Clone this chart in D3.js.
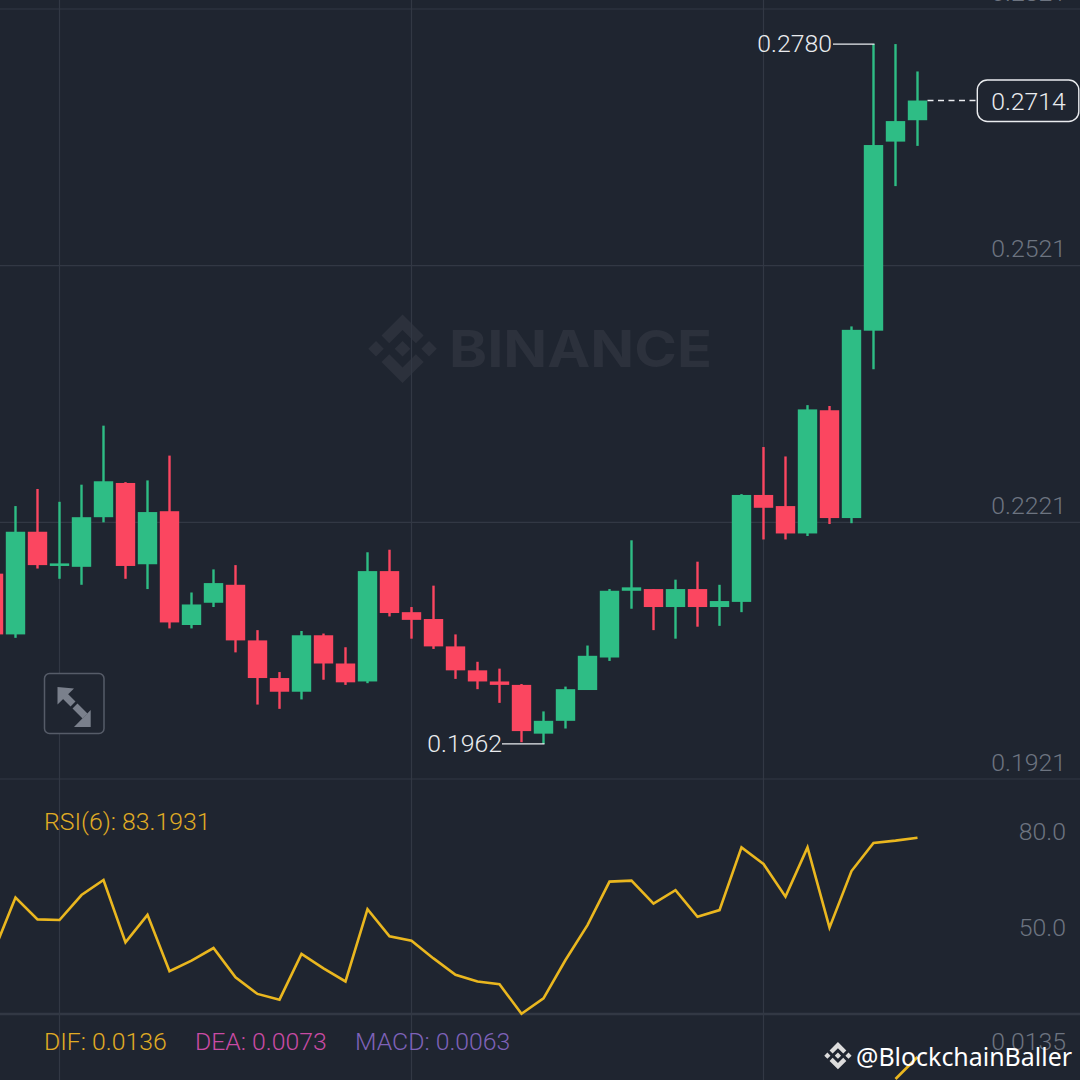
<!DOCTYPE html>
<html>
<head>
<meta charset="utf-8">
<script src="https://cdn.jsdelivr.net/npm/d3@7/dist/d3.min.js"></script>
<style>
html,body{margin:0;padding:0;background:#1f2530;overflow:hidden}
svg{display:block}
text{font-family:Roboto,sans-serif;font-weight:300}
</style>
</head>
<body>
<svg id="c" width="1080" height="1080"></svg>
<script>
const opens  = [.2161,.2090,.2210,.2170,.2169,.2227,.2267,.2172,.2234,.2101,.2127,.2148,.2083,.2039,.2023,.2089,.2056,.2035,.2164,.2116,.2108,.2076,.2048,.2035,.2031,.1974,.1989,.2025,.2063,.2141,.2143,.2122,.2143,.2122,.2128,.2253,.2240,.2208,.2352,.2226,.2445,.2666,.2691];
const highs  = [.2161,.2240,.2260,.2245,.2265,.2334,.2268,.2270,.2299,.2139,.2166,.2171,.2095,.2046,.2094,.2091,.2075,.2186,.2189,.2122,.2147,.2090,.2058,.2050,.2032,.2000,.2029,.2077,.2143,.2200,.2143,.2154,.2175,.2148,.2254,.2309,.2298,.2358,.2357,.2450,.2780,.2780,.2748];
const lows   = [.2090,.2086,.2167,.2155,.2148,.2221,.2155,.2143,.2097,.2097,.2122,.2069,.2008,.2003,.2014,.2037,.2031,.2033,.2111,.2085,.2073,.2038,.2026,.2010,.1964,.1962,.1980,.2025,.2059,.2120,.2095,.2085,.2099,.2100,.2116,.2201,.2201,.2205,.2219,.2220,.2400,.2614,.2661];
const closes = [.2090,.2210,.2171,.2173,.2227,.2269,.2170,.2233,.2104,.2125,.2150,.2083,.2039,.2023,.2089,.2056,.2034,.2164,.2115,.2107,.2076,.2048,.2035,.2031,.1977,.1989,.2026,.2065,.2141,.2145,.2122,.2143,.2122,.2129,.2253,.2238,.2208,.2353,.2226,.2446,.2662,.2690,.2714];
const rsi6   = [47.5,64.5,57.7,57.5,65.3,70.0,50.5,59.1,41.5,44.8,48.75,39.6,34.4,32.6,46.9,42.4,38.3,60.9,52.4,51.0,45.5,40.4,38.3,37.4,28.2,33.0,45.0,55.9,69.5,69.8,62.6,66.8,58.5,60.6,80.2,75.0,64.8,80.2,55.1,72.8,81.6,82.3,83.1931];
const difIdx = [41,42];
const difVal = [.0114,.0136];
const priceTicks = [.2821,.2521,.2221,.1921];
const rsiTicks = [80,50];
const macdTicks = [.0135];
const vGridIdx = [3,19,35];
const BIN = "M38.73 53.2l24.59-24.58 24.6 24.6 14.3-14.31L63.32 0 24.42 38.9zM0 63.31l14.3-14.31 14.31 14.31-14.31 14.3zM38.73 73.41l24.59 24.59 24.6-24.6 14.31 14.29-38.9 38.91-38.91-38.88-.02-.02zM98 63.31l14.3-14.31 14.31 14.3-14.31 14.32zM77.83 63.3L63.32 48.78 52.59 59.51l-1.24 1.23-2.54 2.54 14.51 14.5 14.51-14.47z";

const UP="#2EBD85", DOWN="#FB4660", GRID="#323844", AXIS="#6d7480", BG="#1f2530", HI="#EAECEF", FS="24.8px";
const svg=d3.select("#c");
const x=d3.scaleLinear().domain([0,42]).range([-6.5,917.5]);
const y=d3.scaleLinear().domain([.2821,.1921]).range([9,779]);
const yR=d3.scaleLinear().domain([80,50]).range([848,944]);
const yM=d3.scaleLinear().domain([.0135,.0035]).range([1058,1158]);
const idx=d3.range(opens.length);

svg.append("rect").attr("width",1080).attr("height",1080).attr("fill",BG);

// watermark
svg.append("path").attr("d",BIN).attr("fill","#2c313c").attr("transform","translate(368.3,314.5) scale(.541)");
svg.append("text").text("BINANCE").attr("x",449).attr("y",367).attr("fill","#2c313c")
  .style("font-family","Inter").style("font-weight",700).style("font-size","51px")
  .attr("textLength",263).attr("lengthAdjust","spacingAndGlyphs");

// grid
svg.append("g").selectAll("line").data(vGridIdx).join("line")
  .attr("x1",d=>x(d)).attr("x2",d=>x(d)).attr("y1",0).attr("y2",1080)
  .attr("stroke",GRID).attr("stroke-width",1.2);
svg.append("g").selectAll("line").data(priceTicks).join("line")
  .attr("x1",0).attr("x2",1080).attr("y1",d=>y(d)).attr("y2",d=>y(d))
  .attr("stroke",GRID).attr("stroke-width",1.2);
svg.append("line").attr("x1",0).attr("x2",1080).attr("y1",1014).attr("y2",1014)
  .attr("stroke",GRID).attr("stroke-width",2.4);

// expand button
const btn=svg.append("g");
btn.append("rect").attr("x",44.5).attr("y",673.5).attr("width",59.5).attr("height",60).attr("rx",5)
  .attr("fill",BG).attr("stroke","#565c68").attr("stroke-width",1.5);
btn.append("path").attr("fill","#7a808c").attr("d","M57.5 687L74 688.5L57.5 704.5Z M90.7 727L74 727L90.7 710Z");
btn.append("path").attr("fill","none").attr("stroke","#7a808c").attr("stroke-width",7)
  .attr("d","M63 694L73 704 M75 706L85 716");

// candles
const cg=svg.append("g");
const col=i=>closes[i]>=opens[i]?UP:DOWN;
cg.selectAll("line").data(idx).join("line")
  .attr("x1",i=>x(i)).attr("x2",i=>x(i)).attr("y1",i=>y(highs[i])).attr("y2",i=>y(lows[i]))
  .attr("stroke",col).attr("stroke-width",2.4);
cg.selectAll("rect").data(idx).join("rect")
  .attr("x",i=>x(i)-9.7).attr("width",19.4)
  .attr("y",i=>y(Math.max(opens[i],closes[i])))
  .attr("height",i=>Math.max(1,Math.abs(y(opens[i])-y(closes[i]))))
  .attr("fill",col);

// RSI line
svg.append("path").datum(idx)
  .attr("d",d3.line().x(i=>x(i)).y(i=>yR(rsi6[i])))
  .attr("fill","none").attr("stroke","#EAB71F").attr("stroke-width",2.6).attr("stroke-linejoin","miter");
// DIF line
svg.append("path").datum(d3.range(difIdx.length))
  .attr("d",d3.line().x(i=>x(difIdx[i])).y(i=>yM(difVal[i])))
  .attr("fill","none").attr("stroke","#EAB71F").attr("stroke-width",2.6);

// axes
function axis(scale,ticks,fmt){
  const g=svg.append("g").attr("transform","translate(1066,-17)")
    .call(d3.axisLeft(scale).tickValues(ticks).tickSize(0).tickPadding(0).tickFormat(fmt));
  g.select(".domain").remove();
  g.selectAll("text").attr("fill",AXIS).attr("dy","0.33em").style("font-size",FS).style("font-family","Roboto").style("font-weight",300);
}
axis(y,priceTicks,d3.format(".4f"));
axis(yR,rsiTicks,d3.format(".1f"));
axis(yM,macdTicks,d3.format(".4f"));

// high / low annotations
const iHigh=40, iLow=25;
svg.append("line").attr("x1",833).attr("x2",x(iHigh)+1).attr("y1",y(highs[iHigh])).attr("y2",y(highs[iHigh])).attr("stroke",HI).attr("stroke-width",1.4);
svg.append("text").text(d3.format(".4f")(highs[iHigh])).attr("x",832).attr("y",y(highs[iHigh])-1).attr("dy","0.35em").attr("text-anchor","end").attr("fill",HI).style("font-size",FS);
svg.append("line").attr("x1",502).attr("x2",x(iLow)+1).attr("y1",y(lows[iLow])).attr("y2",y(lows[iLow])).attr("stroke",HI).attr("stroke-width",1.4);
svg.append("text").text(d3.format(".4f")(lows[iLow])).attr("x",502).attr("y",y(lows[iLow])-1).attr("dy","0.35em").attr("text-anchor","end").attr("fill",HI).style("font-size",FS);

// last price
const last=closes[closes.length-1];
svg.append("line").attr("x1",x(42)+10).attr("x2",977).attr("y1",y(last)).attr("y2",y(last))
  .attr("stroke",HI).attr("stroke-width",1.4).attr("stroke-dasharray","6,4.5");
svg.append("rect").attr("x",977.3).attr("y",80).attr("width",101.5).attr("height",41.5).attr("rx",10)
  .attr("fill",BG).attr("stroke",HI).attr("stroke-width",1.4);
svg.append("text").text(d3.format(".4f")(last)).attr("x",1028.5).attr("y",101.5).attr("dy","0.35em").attr("text-anchor","middle").attr("fill",HI).style("font-size",FS);

// legends
const leg=(t,xp,yp,c)=>svg.append("text").text(t).attr("x",xp).attr("y",yp).attr("dy","0.35em").attr("fill",c).style("font-size",FS);
leg("RSI(6): 83.1931",44,821.5,"#E0AC24");
leg("DIF: 0.0136",44,1041.5,"#E0AC24");
leg("DEA: 0.0073",195,1041.5,"#C94BA4");
leg("MACD: 0.0063",355,1041.5,"#7E62B8");

// corner credit
svg.append("path").attr("d",BIN).attr("fill","#dcdcdc").attr("transform","translate(824.3,1042) scale(.2155)");
svg.append("text").text("@BlockchainBaller").attr("x",856).attr("y",1065.5).attr("fill","#ffffff")
  .style("font-family","'Noto Sans'").style("font-weight",400).style("font-size","24.5px")
  .attr("textLength",216).attr("lengthAdjust","spacingAndGlyphs");
</script>
</body>
</html>
